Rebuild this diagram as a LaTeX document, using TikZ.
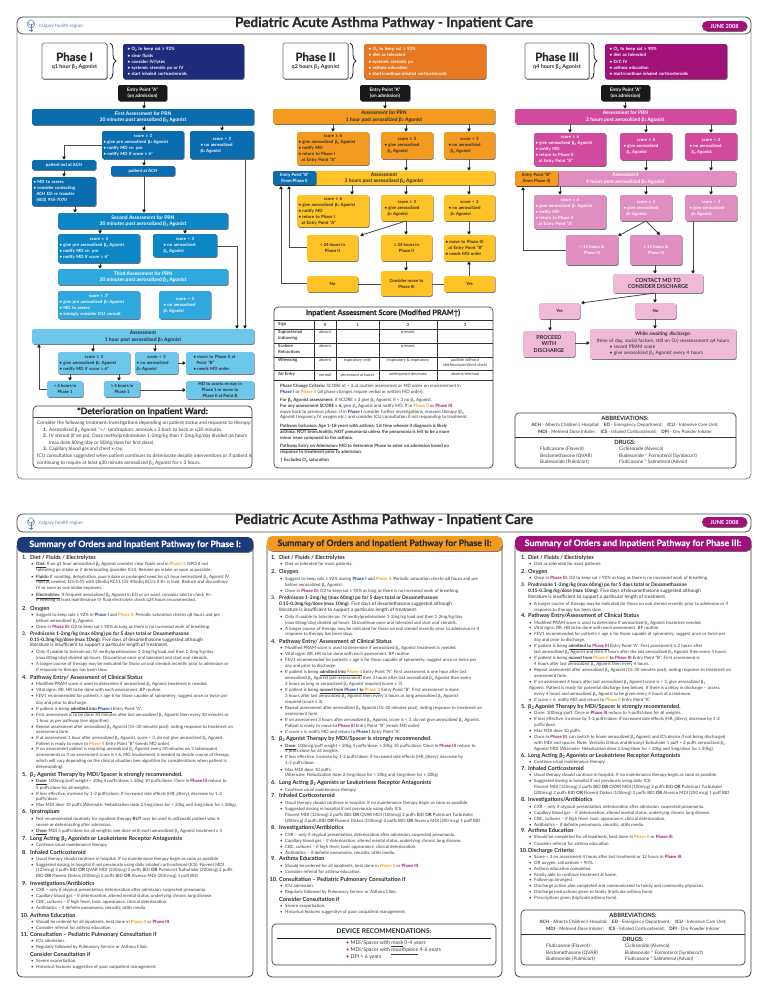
\documentclass[tikz,border=0pt]{standalone}
\usepackage{fontspec}
\setmainfont{Lato}
\newfontfamily\titlef{Lato}[BoldFeatures={FakeBold=0.6}]
\usetikzlibrary{arrows.meta,shadows,decorations.pathreplacing,calc}
\definecolor{navy}{HTML}{1F2C7C}
\definecolor{bannerblue}{HTML}{1B3A7A}
\definecolor{fa}{HTML}{0A6DB0}
\definecolor{fb}{HTML}{0D86C6}
\definecolor{fc}{HTML}{2FA8DD}
\definecolor{fd}{HTML}{6CC7EA}
\definecolor{oa}{HTML}{E87722}
\definecolor{ob}{HTML}{F39A1F}
\definecolor{oc}{HTML}{FFC325}
\definecolor{ma}{HTML}{A0127A}
\definecolor{mb}{HTML}{D24A9F}
\definecolor{mc}{HTML}{DF8EBF}
\definecolor{md}{HTML}{F0B9D6}
\definecolor{ink}{HTML}{2B2B2B}
\definecolor{bodytext}{HTML}{3A3A3A}
\definecolor{logoblue}{HTML}{5A7FA8}
\definecolor{phA}{HTML}{1F3F9A}
\definecolor{phB}{HTML}{F39A1F}
\definecolor{phC}{HTML}{A0127A}
\newcommand\Bt{β\kern.03em\raisebox{-.25ex}{\scalebox{.68}{2}}}
\newcommand\Ot{O\raisebox{-.25ex}{\scalebox{.68}{2}}}
\newcommand\PhA{\textbf{\textcolor{phA}{Phase I}}}
\newcommand\PhB{\textbf{\textcolor{phB}{Phase II}}}
\newcommand\PhC{\textbf{\textcolor{phC}{Phase III}}}
\newcommand\Ul[1]{\underline{\textbf{#1}}}
\newcommand\Cl[1]{\hspace*{\fill}#1\hspace*{\fill}\null}
\newcounter{tn}
\newcommand\Tx[4][]{\stepcounter{tn}\node[txt,#1] (t\arabic{tn}) at (#2,#3) {#4};}
\newcommand\Hd[3]{\Tx[hdtxt]{\xn}{#1}{#2}\Tx[hdtxt]{\xh}{#1}{#3}}
\newcommand\Hl[2]{\Tx[hdtxt]{\xh}{#1}{#2}}
\newcommand\Hb[2]{\Tx[bigtxt]{\xh}{#1}{#2}}
\newcommand\Bu[2]{\Tx{\xb}{#1}{\makebox[\xg pt][l]{•}#2}}
\newcommand\Co[2]{\Tx{\xt}{#1}{#2}}
\newcommand\Bx[9][]{\pgfmathsetmacro\bw{#5-#3}\pgfmathsetmacro\bh{#6-#4}\pgfmathsetmacro\bcx{(#3+#5)/2}\pgfmathsetmacro\bcy{(#4+#6)/2}%
  \node[flowbox,fill=#7,text=#8,minimum width=\bw pt,minimum height=\bh pt,#1] (#2) at (\bcx,\bcy) {#9};}
\newcommand\BxL[9][]{\pgfmathsetmacro\bw{#5-#3}\pgfmathsetmacro\bh{#6-#4}\pgfmathsetmacro\bcx{(#3+#5)/2}\pgfmathsetmacro\bcy{(#4+#6)/2}\pgfmathsetmacro\btw{#5-#3-3}%
  \node[flowbox,fill=#7,text=#8,minimum width=\bw pt,minimum height=\bh pt,text width=\btw pt,align=left,#1] (#2) at (\bcx,\bcy) {#9};}
\newcommand\Dn[3]{\coordinate (tmpc) at (#3,0);\draw[conn] (#1.south -| tmpc) -- (#2.north -| tmpc);}
\newcommand\Rt[3]{\coordinate (tmpc) at (0,#3);\draw[conn] (#1.east |- tmpc) -- (#2.west |- tmpc);}
\newcommand\Up[3]{\coordinate (tmpc) at (#3,0);\draw[conn] (#1.north -| tmpc) -- (#2.south -| tmpc);}
\newcommand\Logo[2]{\begin{scope}[shift={(#1,#2)},logoblue,line width=.5pt]
  \draw (0,-2.5) circle (2.6);\draw (-4,-3) .. controls (-4,2) and (-1,2) .. (0,3);\draw (4,-3) .. controls (4,2) and (1,2) .. (0,3);\draw (0,-1) -- (0,7);\draw (-2,5) -- (2,5);
  \end{scope}}
\newcommand\Phbox[6]{\Bx[phasebox]{#1}{#2}{43}{#3}{79}{white}{ink}{{\titlef\fontsize{11.5}{13}\selectfont\bfseries #4}\\[1.5pt]{\fontsize{5.4}{6}\selectfont\bfseries #5}}
  \draw[bracestyle] (#6,43) -- (#6,79);}
\tikzset{
 txt/.style={anchor=mid west,inner sep=0pt,text=bodytext,font=\fontsize{4.4}{5}\selectfont},
 hdtxt/.style={font=\fontsize{5.6}{6}\selectfont\bfseries,text=ink},
 bigtxt/.style={font=\fontsize{4.95}{6}\selectfont\bfseries,text=ink},
 bigplain/.style={font=\fontsize{4.75}{6}\selectfont,text=ink},
 flowbox/.style={rounded corners=1.6pt,inner sep=0pt,align=center,font=\fontsize{4.3}{6.1}\selectfont\bfseries,
   drop shadow={shadow xshift=.7pt,shadow yshift=-.8pt,opacity=.55,fill=black}},
 asmt/.style={font=\fontsize{5}{6.4}\selectfont\bfseries},
 entryfont/.style={font=\fontsize{4.7}{6.2}\selectfont\bfseries},
 listfont/.style={font=\fontsize{4.4}{6.1}\selectfont\bfseries},
 pillfont/.style={rounded corners=5pt,font=\fontsize{5.6}{6}\selectfont\bfseries},
 banfont/.style={rounded corners=5pt,font=\titlef\fontsize{8.75}{10}\selectfont\bfseries},
 phasebox/.style={draw=black!55,line width=.8pt},
 bracestyle/.style={draw=ink,line width=.9pt,decorate,decoration={brace,amplitude=6pt}},
 conn/.style={draw=black!70,line width=.8pt,-{Latex[length=3.2pt,width=4.2pt,color=black!90]}},
 plainconn/.style={draw=black!70,line width=.8pt},
 framebox/.style={draw=black!75,line width=.7pt,rounded corners=4pt,inner sep=0pt},
 tcell/.style={txt,anchor=center,align=center,font=\fontsize{4.1}{5}\selectfont},
 thead/.style={txt,anchor=center,font=\fontsize{4.2}{5}\selectfont\bfseries},
 tlab/.style={txt,anchor=west,font=\fontsize{4.3}{6}\selectfont\bfseries,align=left},
 ftitle/.style={txt,anchor=mid,text=ink,font=\fontsize{5.8}{7}\selectfont\bfseries},
 pramtxt/.style={font=\fontsize{4.45}{5}\selectfont},
 prambold/.style={font=\fontsize{4.45}{5}\selectfont\bfseries},
 dettxt/.style={font=\fontsize{4.8}{5}\selectfont},
 abbr/.style={anchor=mid,font=\fontsize{4.55}{5}\selectfont},
 drug/.style={font=\fontsize{4.8}{5}\selectfont},
 devt/.style={font=\fontsize{5.2}{6}\selectfont},
}
\begin{document}
\begin{tikzpicture}[x=1pt,y=-1pt]
\useasboundingbox (0,0) rectangle (768,994);
\fill[white] (0,0) rectangle (768,994);
% ---------- page 1 frame
\draw[black!45,line width=.9pt,rounded corners=5pt] (17,30) -- (17,479) -- (751,479) -- (751,30);
\draw[black!70,line width=.8pt,fill=white,rounded corners=6pt] (17,17) rectangle (751,34);
\Logo{31}{25}
\Tx[text=logoblue,font=\fontsize{4.8}{5}\selectfont]{39}{25}{calgary health region}
\Tx[anchor=mid,text=ink,font=\titlef\fontsize{13.7}{16}\selectfont\bfseries]{384}{24.5}{Pediatric Acute Asthma Pathway - Inpatient Care}
\Bx[pillfont]{junea}{702}{21}{747}{31}{ma}{white}{JUNE 2008}
% ---------- Phase I
\Phbox{phi}{42}{107}{Phase I}{q1 hour \Bt{} Agonist}{110}
\BxL[listfont]{phil}{123}{44}{244}{79}{navy}{white}{\hspace*{3pt}• \Ot{} to keep sat ≥ 92\%\\\hspace*{3pt}• clear fluids\\\hspace*{3pt}• consider IV/lytes\\\hspace*{3pt}• systemic steroids po or IV\\\hspace*{3pt}• start inhaled corticosteroids}
\Bx[entryfont]{ea}{118}{85}{167}{101}{black!90}{white}{Entry Point "A"\\(on admission)}
\Bx[asmt]{fa1}{32}{109}{254}{125}{fa}{white}{First Assessment for PRN\\30 minutes post aerosolized \Bt{} Agonist}
\BxL{fa2}{102}{131}{184}{159}{fa}{white}{\Cl{score ≥ 3}\\• give prn aerosolized \Bt{} Agonist\\• notify MD re: prn\\• notify MD if score ≥ 6*}
\BxL{fa3}{190}{131}{254}{159}{fa}{white}{\Cl{score < 3}\\\hspace*{9pt}• no aerosolized\\\hspace*{9pt}\Bt{} Agonist}
\Bx{fa4}{32}{160}{96}{170}{fa}{white}{patient not at ACH}
\Bx{fa5}{111}{166}{175}{176}{fa}{white}{patient at ACH}
\BxL{fa6}{32}{177}{96}{206}{fa}{white}{• MD to assess\\• consider contacting\\\hspace*{3pt}ACH ED re transfer\\\hspace*{3pt}(403) 955-7070}
\Bx[asmt]{fb1}{58}{213}{228}{229}{fb}{white}{Second Assessment for PRN\\30 minutes post aerosolized \Bt{} Agonist}
\BxL{fb2}{58}{234}{140}{263}{fb}{white}{\Cl{score ≥ 3}\\• give prn aerosolized \Bt{} Agonist\\• notify MD re: prn\\• notify MD if score ≥ 6*}
\BxL{fb3}{153}{234}{217}{257}{fb}{white}{\Cl{score < 3}\\\hspace*{9pt}• no aerosolized\\\hspace*{9pt}\Bt{} Agonist}
\Bx[asmt]{fc1}{58}{269}{228}{285}{fc}{white}{Third Assessment for PRN\\30 minutes post aerosolized \Bt{} Agonist}
\BxL{fc2}{58}{291}{140}{319}{fc}{white}{\Cl{score ≥ 3*}\\• give prn aerosolized \Bt{} Agonist\\• MD to assess\\• strongly consider ICU consult}
\BxL{fc3}{159}{291}{211}{319}{fc}{white}{\Cl{score < 3}\\\hspace*{3pt}• no aerosolized\\\hspace*{3pt}\Bt{} Agonist}
\Bx[asmt]{fd1}{32}{329}{254}{344}{fd}{ink}{Assessment\\1 hour post aerosolized \Bt{} Agonist}
\BxL{fd2}{58}{352}{130}{374}{fd}{ink}{\Cl{score ≥ 3}\\• give aerosolized \Bt{} Agonist\\• notify MD if score ≥ 6*}
\BxL{fd3}{135}{352}{178}{374}{fd}{ink}{\Cl{score < 3}\\• no aerosolized\\\Bt{} Agonist}
\BxL{fd4}{186}{352}{254}{374}{fd}{ink}{\hspace*{6pt}• move to Phase II at\\\hspace*{9pt}Point "B"\\\hspace*{6pt}• needs MD order}
\Bx{fd5}{47}{381}{83}{397}{fd}{ink}{< 4 hours in\\Phase 1}
\Bx{fd6}{104}{381}{140}{397}{fd}{ink}{≥ 4 hours in\\Phase 1}
\Bx{fd7}{186}{381}{254}{399}{fd}{ink}{MD to assess re:stay in\\Phase 1 or move to\\Phase II at Point B}
\Dn{ea}{fa1}{144}
\Dn{fa1}{fa2}{144}\Dn{fa1}{fa3}{222}
\coordinate (e1) at (64,145);\draw[conn] (fa2.west |- e1) -- (e1) -- (fa4.north -| e1);
\Dn{fa2}{fa5}{144}\Dn{fa5}{fb1}{144}\Dn{fa4}{fa6}{64}\Dn{fa6}{fb1}{75}
\Dn{fb1}{fb2}{100}\Dn{fb1}{fb3}{185}\Dn{fb2}{fc1}{100}
\coordinate (e2) at (237,246);\draw[conn] (fb3.east |- e2) -- (e2) -- (fd1.north -| e2);
\Dn{fa3}{fd1}{245}
\Dn{fd1}{fd2}{93}\Dn{fd1}{fd3}{155}\Rt{fd3}{fd4}{363}\Dn{fd2}{fd5}{70}\Dn{fd2}{fd6}{119}\Rt{fd6}{fd7}{390}
\coordinate (e3) at (39,389);\draw[conn] (fd5.west |- e3) -- (e3) -- (fd1.south -| e3);
% Deterioration
\node[framebox,fill=white,minimum width=219pt,minimum height=62pt] (det) at (142.5,437) {};
\Tx[anchor=mid,text=ink,font=\titlef\fontsize{8.7}{12}\selectfont\bfseries]{142.5}{411.5}{*Deterioration on Inpatient Ward:}
\draw[black!75,line width=.7pt] (det.west |- 0,417) -- (det.east |- 0,417);
\Tx[dettxt]{37}{422}{Consider the following treatment/investigations depending on patient status and response to therapy:}
\Tx[dettxt]{43}{429}{\makebox[6pt][l]{\textbf{1.}}Aerosolized \Bt{} Agonist *+/- Ipratropium: aerosols x 3 back to back or q30 minutes.}
\Tx[dettxt]{43}{435}{\makebox[6pt][l]{\textbf{2.}}IV steroid (if on po): Dose methylprednisolone 1-2mg/kg then 1-2mg/kg/day divided q6 hours}
\Tx[dettxt]{49}{442}{(max dose 80mg/day or 80mg/dose for first dose).}
\Tx[dettxt]{43}{448}{\makebox[6pt][l]{\textbf{3.}}Capillary blood gas and chest x-ray.}
\Tx[dettxt]{37}{455}{ICU consultation suggested when patient continues to deteriorate despite interventions or if patient is}
\Tx[dettxt]{37}{462}{continuing to require at least q30 minute aerosolized \Bt{} Agonist for ≥ 3 hours.}
% ---------- Phase II
\Phbox{phii}{283}{348}{Phase II}{q2 hours \Bt{} Agonist}{350}
\BxL[listfont]{phiil}{364}{44}{486}{79}{oa}{white}{\hspace*{3pt}• \Ot{} to keep sat ≥ 92\%\\\hspace*{3pt}• diet as tolerated\\\hspace*{3pt}• systemic steroids po\\\hspace*{3pt}• asthma education\\\hspace*{3pt}• start/continue inhaled corticosteroids}
\Bx[entryfont]{eb}{360}{85}{410}{101}{black!90}{white}{Entry Point "A"\\(on admission)}
\Bx[asmt]{ob1}{273}{109}{495}{124}{ob}{ink}{Assessment for PRN\\1 hour post aerosolized \Bt{} Agonist}
\BxL{ob2}{297}{132}{369}{165}{ob}{ink}{\Cl{score ≥ 6}\\• give aerosolized \Bt{} Agonist\\• notify MD\\• return to Phase I\\\hspace*{3pt}at Entry Point "A"}
\BxL{ob3}{381}{132}{433}{159}{ob}{ink}{\Cl{score ≥ 3}\\\hspace*{2pt}• give aerosolized\\\hspace*{5pt}\Bt{} Agonist}
\BxL{ob4}{444}{132}{495}{159}{ob}{ink}{\Cl{score < 3}\\\hspace*{3pt}• no aerosolized\\\hspace*{5pt}\Bt{} Agonist}
\Bx[asmt]{oc1}{273}{171}{495}{185}{oc}{ink}{Assessment\\3 hours post aerosolized \Bt{} Agonist}
\Bx{ebb}{273}{171}{316}{185}{fa}{white}{Entry Point "B"\\(from Phase I)}
\BxL{oc2}{297}{195}{369}{227}{oc}{ink}{\Cl{score ≥ 6}\\• give aerosolized \Bt{} Agonist\\• notify MD\\• return to Phase I\\\hspace*{3pt}at Entry Point "A"}
\BxL{oc3}{381}{195}{433}{221}{oc}{ink}{\Cl{score ≥ 3}\\\hspace*{2pt}• give aerosolized\\\hspace*{5pt}\Bt{} Agonist}
\BxL{oc4}{444}{195}{495}{221}{oc}{ink}{\Cl{score < 3}\\\hspace*{3pt}• no aerosolized\\\hspace*{5pt}\Bt{} Agonist}
\Bx{oc5}{307}{235}{358}{261}{oc}{ink}{< 24 hours in\\Phase II}
\Bx{oc6}{381}{235}{432}{261}{oc}{ink}{≥ 24 hours in\\Phase II}
\BxL{oc7}{444}{235}{495}{261}{oc}{ink}{• move to Phase III\\\hspace*{3pt}at Entry Point "B"\\• needs MD order}
\Bx{oc8}{307}{276}{358}{292}{oc}{ink}{No}
\Bx{oc9}{381}{271}{432}{296}{oc}{ink}{Consider move to\\Phase III}
\Bx{oc10}{444}{276}{495}{292}{oc}{ink}{Yes}
\Dn{eb}{ob1}{385}
\Dn{ob1}{ob2}{333}\Dn{ob1}{ob3}{406}\Dn{ob1}{ob4}{469}
\Dn{ob3}{oc1}{406}\Dn{ob4}{oc1}{469}
\Dn{oc1}{oc2}{352}\Dn{oc1}{oc3}{406}\Dn{oc1}{oc4}{469}
\Dn{oc3}{oc6}{406}\Dn{oc4}{oc7}{469}\Dn{oc6}{oc9}{406}
\coordinate (e4) at (406,221);\draw[conn] (e4) -- (360,235.5);
\coordinate (e5) at (289,247.5);\coordinate (e5t) at (289,186);\draw[conn] (oc5.west |- e5) -- (e5) -- (e5t);
\coordinate (e6) at (281,283);\coordinate (e6t) at (281,186);\draw[conn] (oc8.west |- e6) -- (e6) -- (e6t);
\draw[plainconn] (oc8.east) -- (oc9.west |- oc8.east);
\draw[plainconn] (oc9.east |- oc10.west) -- (oc10.west);
\Up{oc10}{oc7}{469}
% PRAM
\node[framebox,fill=white,minimum width=219pt,minimum height=161pt] (pram) at (383.5,387.5) {};
\Tx[anchor=mid,text=ink,font=\titlef\fontsize{7.4}{10}\selectfont\bfseries]{383}{312.5}{Inpatient Assessment Score (Modified PRAM†)}
\foreach \yy in {320,329,343,357,370,380}{\draw[black!80,line width=.75pt] (274,\yy) -- (493,\yy);}
\foreach \xx in {314,336,379,437}{\draw[black!80,line width=.75pt] (\xx,320) -- (\xx,380);}
\Tx[tlab]{278}{324.5}{Sign}\Tx[thead]{325}{324.5}{0}\Tx[thead]{357.5}{324.5}{1}\Tx[thead]{408}{324.5}{2}\Tx[thead]{465}{324.5}{3}
\Tx[tlab]{278}{335}{Suprasternal\\Indrawing}\Tx[tcell]{325}{332}{absent}\Tx[tcell]{408}{332}{present}
\Tx[tlab]{278}{349}{Scalene\\Retractions}\Tx[tcell]{325}{346}{absent}\Tx[tcell]{408}{346}{present}
\Tx[tlab]{278}{360}{Wheezing}\Tx[tcell]{325}{360}{absent}\Tx[tcell]{357.5}{360}{expiratory only}\Tx[tcell]{408}{360}{inspiratory \& expiratory}\Tx[tcell]{465}{362.5}{audible without\\stethoscope/silent chest}
\Tx[tlab]{278}{374.5}{Air Entry}\Tx[tcell]{325}{374.5}{normal}\Tx[tcell]{357.5}{374.5}{decreased at bases}\Tx[tcell]{408}{374.5}{widespread decrease}\Tx[tcell]{465}{374.5}{absent/minimal}
\Tx[pramtxt]{280}{385}{\textbf{Phase Change Criteria:} SCORE of < 3 at routine assessment or MD order on reassessment in}
\Tx[pramtxt]{280}{391}{\PhA{} or \PhB{} (all phase changes require verbal or written MD order).}
\Tx[pramtxt]{280}{399}{\textbf{For \Bt{} Agonist assessment:} if SCORE ≥ 3 give \Bt{} Agonist, if < 3 no \Bt{} Agonist.}
\Tx[pramtxt]{280}{405}{\textbf{For any assessment SCORE ≥ 6,} give \Bt{} Agonist and notify MD. If in \PhB{} or \PhC}
\Tx[pramtxt]{280}{411}{move back to previous phase. If in \PhA{} consider further investigations, reassess therapy (\Bt}
\Tx[pramtxt]{280}{416}{Agonist frequency IV, oxygen etc.) and consider ICU consultation if not responding to treatment.}
\Tx[prambold]{280}{425}{\underline{Pathway Inclusion:} Age 1-18 years with asthma; 1st time wheeze if diagnosis is likely}
\Tx[prambold]{280}{431}{asthma; NOT bronchiolitis; NOT pneumonia unless the pneumonia is felt to be a more}
\Tx[prambold]{280}{437}{minor issue compared to the asthma.}
\Tx[prambold]{280}{445}{\underline{Pathway Entry on Admission:} MD to determine Phase to enter on admission based on}
\Tx[prambold]{280}{451}{response to treatment prior to admission.}
\Tx[prambold]{280}{459}{† Excludes \Ot{} saturation}
% ---------- Phase III
\Phbox{phiii}{525}{589}{Phase III}{q4 hours \Bt{} Agonist}{591}
\BxL[listfont]{phiiil}{605}{44}{727}{79}{ma}{white}{\hspace*{3pt}• \Ot{} to keep sat ≥ 90\%\\\hspace*{3pt}• diet as tolerated\\\hspace*{3pt}• D/C IV\\\hspace*{3pt}• asthma education\\\hspace*{3pt}• start/continue inhaled corticosteroids}
\Bx[entryfont]{ec}{601}{85}{650}{101}{black!90}{white}{Entry Point "A"\\(on admission)}
\Bx[asmt]{mb1}{515}{109}{736}{124}{mb}{white}{Assessment for PRN\\2 hours post aerosolized \Bt{} Agonist}
\BxL{mb2}{534}{133}{606}{166}{mb}{white}{\Cl{score ≥ 6}\\• give aerosolized \Bt{} Agonist\\• notify MD\\• return to Phase II\\\hspace*{3pt}at Entry Point "A"}
\BxL{mb3}{620}{133}{672}{160}{mb}{white}{\Cl{score ≥ 3}\\\hspace*{2pt}• give aerosolized\\\hspace*{5pt}\Bt{} Agonist}
\BxL{mb4}{685}{133}{737}{160}{mb}{white}{\Cl{score < 3}\\\hspace*{3pt}• no aerosolized\\\hspace*{5pt}\Bt{} Agonist}
\Bx[asmt]{mc1}{515}{171}{736}{186}{mc}{white}{Assessment\\4 hours post aerosolized \Bt{} Agonist}
\Bx{ebc}{515}{171}{558}{186}{ob}{ink}{Entry Point "B"\\(from Phase II)}
\BxL{mc2}{534}{195}{606}{229}{mc}{white}{\Cl{score ≥ 6}\\• give aerosolized \Bt{} Agonist\\• notify MD\\• return to Phase II\\\hspace*{3pt}at Entry Point "A"}
\BxL{mc3}{620}{195}{672}{221}{mc}{white}{\Cl{score ≥ 3}\\\hspace*{2pt}• give aerosolized\\\hspace*{5pt}\Bt{} Agonist}
\BxL{mc4}{685}{195}{737}{221}{mc}{white}{\Cl{score < 3}\\\hspace*{3pt}• give aerosolized\\\hspace*{5pt}\Bt{} Agonist}
\Bx{mc5}{566}{235}{618}{265}{mc}{white}{< 12 hours in\\Phase III}
\Bx{mc6}{630}{235}{682}{265}{mc}{white}{≥ 12 hours in\\Phase III}
\Bx[font=\fontsize{5.5}{6.6}\selectfont\bfseries]{md1}{613}{274}{703}{293}{md}{ink}{CONTACT MD TO\\CONSIDER DISCHARGE}
\Bx{md2}{539}{303}{580}{319}{md}{ink}{Yes}
\Bx{md3}{635}{303}{676}{319}{md}{ink}{No}
\Bx[font=\fontsize{5.4}{6.4}\selectfont\bfseries]{md4}{523}{331}{575}{357}{md}{ink}{PROCEED\\WITH\\DISCHARGE}
\BxL[font=\fontsize{4.8}{6.3}\selectfont\bfseries]{md5}{590}{329}{736}{359}{md}{ink}{\Cl{While awaiting discharge:}\\\Cl{\mdseries(time of day, social factors, still on \Ot{}) reassessment q4 hours}\\\hspace*{18pt}• record PRAM score\\\hspace*{18pt}• give aerosolized \Bt{} Agonist every 4 hours}
\Dn{ec}{mb1}{625}
\Dn{mb1}{mb2}{570}\Dn{mb1}{mb3}{646}\Dn{mb1}{mb4}{711}
\Dn{mb3}{mc1}{646}\Dn{mb4}{mc1}{711}
\Dn{mc1}{mc2}{560}\Dn{mc1}{mc3}{646}\Dn{mc1}{mc4}{711}
\coordinate (e7) at (646,221);\draw[conn] (e7) -- (618,236);\draw[conn] (e7) -- (660,235);
\Dn{mc6}{md1}{655}
\Dn{mc4}{md1}{693}
\coordinate (e8) at (523,250);\coordinate (e8t) at (523,187);\draw[conn] (mc5.west |- e8) -- (e8) -- (e8t);
\Dn{md1}{md3}{655}
\coordinate (e9) at (655,293);\draw[conn] (e9) -- (581,303);
\Dn{md2}{md4}{550}\Dn{md3}{md5}{655}\Rt{md4}{md5}{343}
% Abbreviations top
\node[framebox,fill=white,minimum width=221pt,minimum height=55pt] (aba) at (625.5,440.5) {};
\draw[black!80,line width=.75pt] (aba.west |- 0,437) -- (aba.east |- 0,437);
\Tx[ftitle]{625}{418}{ABBREVIATIONS:}
\Tx[abbr]{625}{424}{\textbf{ACH} - Alberta Children's Hospital;\quad \textbf{ED} - Emergency Department;\quad \textbf{ICU} - Intensive Care Unit;}
\Tx[abbr]{625}{431}{\textbf{MDI} - Metered Dose Inhaler;\quad \textbf{ICS} - Inhaled Corticosteroid;\quad \textbf{DPI} - Dry Powder Inhaler}
\Tx[ftitle]{625}{442}{DRUGS:}
\Tx[drug]{540}{448}{Fluticasone (Flovent)}\Tx[drug]{619}{448}{Ciclesonide (Alvesco)}
\Tx[drug]{540}{455}{Beclomethasone (QVAR)}\Tx[drug]{619}{455}{Budesonide * Formoterol (Symbicort)}
\Tx[drug]{540}{461}{Budesonide (Pulmicort)}\Tx[drug]{619}{461}{Fluticasone * Salmeterol (Advair)}
% ---------- page 2 frame
\draw[black!70,line width=.8pt,fill=white,rounded corners=6pt] (17,514) rectangle (751,532);
\Logo{31}{523}
\Tx[text=logoblue,font=\fontsize{4.8}{5}\selectfont]{39}{522}{calgary health region}
\Tx[anchor=mid,text=ink,font=\titlef\fontsize{13.7}{16}\selectfont\bfseries]{384}{521.5}{Pediatric Acute Asthma Pathway - Inpatient Care}
\Bx[pillfont]{juneb}{702}{517}{747}{527}{ma}{white}{JUNE 2008}
\draw[black!75,line width=.8pt,rounded corners=5pt] (17,545) -- (17,977) -- (253,977) -- (253,545);
\draw[black!75,line width=.8pt,rounded corners=5pt] (267,545) -- (267,977) -- (502,977) -- (502,545);
\draw[black!75,line width=.8pt,rounded corners=5pt] (515,545) -- (515,977) -- (751,977) -- (751,545);
\Bx[banfont]{ban}{17}{537}{253}{552}{bannerblue}{white}{Summary of Orders and Inpatient Pathway for Phase I:}
\Bx[banfont]{bbn}{267}{536}{502}{551}{ob}{ink}{Summary of Orders and Inpatient Pathway for Phase II:}
\Bx[banfont]{bcn}{515}{536}{751}{551}{ma}{white}{Summary of Orders and Inpatient Pathway for Phase III:}
% ---------- Column I
\def\xn{22}\def\xh{30}\def\xb{31}\def\xt{36}\def\xg{5}
\Hd{557}{1.}{Diet / Fluids / Electrolytes}
\Bu{563}{\Ul{Diet:} If on q1 hour aerosolized \Bt{} Agonist consider clear fluids oral in \PhB. NPO if not}
\Co{569}{tolerating po intake or if deteriorating (possible ICU). Resume po intake as soon as possible.}
\Bu{576}{\Ul{Fluids:} If vomiting, dehydration, poor intake or prolonged need for q1 hour aerosolized \Bt{} Agonist IV}
\Co{581}{fluid as needed. D5/0.45 with 20mEq KCl/L (35-40mEq KCl/L if K+ is low). Reduce and discontinue}
\Co{587}{IV as soon as oral intake improves.}
\Bu{594}{\Ul{Electrolytes:} If frequent aerosolized \Bt{} Agonist in ED or on ward, consider labs to check K+.}
\Co{599}{If needing at least maintenance IV fluid electrolyte check q24 hours recommended.}
\Hd{608}{2.}{Oxygen}
\Bu{614}{Suggest to keep sats ≥ 92\% in \PhA{} and \PhB. Periodic saturation checks q8 hours and pre}
\Co{620}{before aerosolized \Bt{} Agonist.}
\Bu{626}{Once in \PhC: O2 to keep sat ≥ 90\% as long as there is no increased work of breathing.}
\Tx[bigtxt]{\xn}{633}{3.}\Hb{633}{Prednisone 1-2mg/kg (max 60mg) po for 5 days total or Dexamethasone}
\Tx[bigplain]{\xh}{638.5}{\textbf{0.15-0.3mg/kg/dose (max 10mg).} Five days of dexamethasone suggested although}
\Tx[bigplain]{\xh}{644}{literature is insufficient to support a particular length of treatment.}
\Bu{651}{Only if unable to tolerate po: IV methylprednisolone 1-2mg/kg load and then 1-2mg/kg/day}
\Co{657}{(max 80mg/day) divided q6 hours. Discontinue once oral tolerated and start oral steroids.}
\Bu{663}{A longer course of therapy may be indicated for those on oral steroids recently prior to admission or}
\Co{669}{if response to therapy has been slow.}
\Hd{677}{4.}{Pathway Entry/ Assessment of Clinical Status}
\Bu{683}{Modified PRAM score is used to determine if aerosolized \Bt{} Agonist treatment is needed.}
\Bu{689}{Vital signs: RR, HR to be done with each assessment. BP routine.}
\Bu{695}{FEV1 recommended for patients ≥ age 6 for those capable of spirometry; suggest once or twice per}
\Co{702}{day and prior to discharge.}
\Bu{708}{If patient is being \Ul{admitted into \textcolor{phA}{Phase I}} Entry Point "A".}
\Bu{714}{First assessment is to be done 30 minutes after last aerosolized \Bt{} Agonist then every 30 minutes or}
\Co{720}{1 hour as per pathway (see algorithm).}
\Bu{726}{Repeat assessment after aerosolized \Bt{} Agonist (15-30 minutes post), noting response to treatment on}
\Co{731}{assessment form.}
\Bu{737}{If at assessment 1 hour after aerosolized \Bt{} Agonist, score < 3, do not give aerosolized \Bt{} Agonist.}
\Co{743}{Patient is ready to move to \PhB{} Entry Point "B" (needs MD order).}
\Bu{748}{If on assessment patient is requiring aerosolized \Bt{} Agonist every 30 minutes on 3 subsequent}
\Co{754}{assessments or if on assessment score is ≥ 6, MD involvement is needed to decide course of therapy}
\Co{760}{which will vary depending on the clinical situation (see algorithm for considerations when patient is}
\Co{766}{deteriorating).}
\Hd{774}{5.}{\Bt{} Agonist Therapy by MDI/Spacer is strongly recommended.}
\Bu{780}{\Ul{Dose:} 100mcg/puff weight < 20kg 5 puffs/dose; ≥ 20kg 10 puffs/dose. Once in \PhC{} reduce to}
\Co{787}{5 puffs/dose for all weights.}
\Bu{793}{If less effective, increase by 1-2 puffs/dose; if increased side effects (HR, jittery), decrease by 1-2}
\Co{798}{puffs/dose.}
\Bu{804}{Max MDI dose 10 puffs (Alternate: Nebulization dose 2.5mg/dose for < 20kg and 5mg/dose for ≥ 20kg).}
\Hd{811}{6.}{Ipratropium}
\Bu{818}{Not recommended routinely for inpatient therapy \textbf{BUT} may be used in asthmatic patient who is}
\Co{824}{severe or deteriorating after admission.}
\Bu{830}{\Ul{Dose:} MDI 5 puffs/dose for all weights; one dose with each aerosolized \Bt{} Agonist treatment x 3}
\Hd{838}{7.}{Long Acting \Bt{} Agonists or Leukotriene Receptor Antagonists}
\Bu{844}{Continue usual maintenance therapy.}
\Hd{852}{8.}{Inhaled Corticosteroid}
\Bu{858}{Usual therapy should continue in hospital. If no maintenance therapy begin as soon as possible.}
\Bu{864}{Suggested dosing in hospital if not previously using daily inhaled corticosteroid (ICS): Flovent MDI}
\Co{869}{(125mcg) 2 puffs BID \textbf{OR} QVAR MDI (100mcg) 2 puffs BID \textbf{OR} Pulmicort Turbuhaler (200mcg) 2 puffs}
\Co{875}{BID \textbf{OR} Flovent Diskus (100mcg) 2 puffs BID \textbf{OR} Alvesco MDI (200 mcg) 1 puff BID}
\Hd{883}{9.}{Investigations/Antibiotics}
\Bu{889}{CXR – only if atypical presentation, deterioration after admission, suspected pneumonia.}
\Bu{895}{Capillary blood gas – if deterioration, altered mental status, underlying chronic lung disease.}
\Bu{901}{CBC, cultures – if high fever, toxic appearance, clinical deterioration.}
\Bu{907}{Antibiotics – if definite pneumonia, sinusitis, otitis media.}
\def\xn{20.5}\Hd{915}{10.}{Asthma Education}
\Bu{921}{Should be ordered for all inpatients, best done in \PhB{} or \PhC.}
\Bu{927}{Consider referral for asthma education.}
\Hd{934}{11.}{Consultation – Pediatric Pulmonary Consultation if}
\Bu{940}{ICU admission.}
\Bu{946}{Regularly followed by Pulmonary Service or Asthma Clinic.}
\Hl{954}{Consider Consultation if}
\Bu{960}{Severe exacerbation.}
\Bu{966}{Historical features suggestive of poor outpatient management.}
% ---------- Column II
\def\xn{271}\def\xh{279}\def\xb{280}\def\xt{285}
\Hd{557}{1.}{Diet / Fluids / Electrolytes}
\Bu{563}{Diet as tolerated for most patients.}
\Hd{571}{2.}{Oxygen}
\Bu{578}{Suggest to keep sats ≥ 92\% during \PhA{} and \PhB. Periodic saturation checks q8 hours and pre}
\Co{584}{before aerosolized \Bt{} Agonist.}
\Bu{590}{Once in \PhC: O2 to keep sat ≥ 90\% as long as there is no increased work of breathing.}
\Tx[bigtxt]{\xn}{597}{3.}\Hb{597}{Prednisone 1-2mg/kg (max 60mg) po for 5 days total or Dexamethasone}
\Tx[bigplain]{\xh}{603}{\textbf{0.15-0.3mg/kg/dose (max 10mg).} Five days of dexamethasone suggested although}
\Tx[bigplain]{\xh}{609}{literature is insufficient to support a particular length of treatment.}
\Bu{616}{Only if unable to tolerate po: IV methylprednisolone 1-2mg/kg load and then 1-2mg/kg/day}
\Co{622}{(max 80mg/day) divided q6 hours. Discontinue once oral tolerated and start oral steroids.}
\Bu{628}{A longer course of therapy may be indicated for those on oral steroid recently prior to admission or if}
\Co{633}{response to therapy has been slow.}
\Hd{641}{4.}{Pathway Entry/ Assessment of Clinical Status}
\Bu{647}{Modified PRAM score is used to determine if aerosolized \Bt{} Agonist treatment is needed.}
\Bu{653}{Vital signs: RR, HR to be done with each assessment. BP routine.}
\Bu{659}{FEV1 recommended for patients ≥ age 6 for those capable of spirometry; suggest once or twice per}
\Co{665}{day and prior to discharge.}
\Bu{671}{If patient is being \Ul{admitted into \textcolor{phB}{Phase II}} Entry Point "A". First assessment is one hour after last}
\Co{677}{aerosolized \Bt{} Agonist (pre-assessment) then 3 hours after last aerosolized \Bt{} Agonist then every}
\Co{683}{3 hours as long as aerosolized \Bt{} Agonist required (score ≥ 3).}
\Bu{689}{If patient is being \Ul{moved from \textcolor{phA}{Phase I} to \textcolor{phB}{Phase II}} Entry Point "B". First assessment is done}
\Co{695}{3 hours after last aerosolized \Bt{} Agonist then every 3 hours as long aerosolized \Bt{} Agonist}
\Co{701}{required (score ≥ 3).}
\Bu{707}{Repeat assessment after aerosolized \Bt{} Agonist (15-30 minutes post), noting response to treatment on}
\Co{713}{assessment form.}
\Bu{719}{If on assessment 3 hours after aerosolized \Bt{} Agonist, score is < 3, do not give aerosolized \Bt{} Agonist.}
\Co{725}{Patient is ready to move to \PhC{} Entry Point "B" (needs MD order).}
\Bu{731}{If score ≥ 6, notify MD and return to \PhA{} Entry Point "A".}
\Hd{738}{5.}{\Bt{} Agonist Therapy by MDI/Spacer is strongly recommended.}
\Bu{745}{\Ul{Dose:} 100mcg/puff weight < 20kg 5 puffs/dose; ≥ 20kg 10 puffs/dose. Once in \PhC{} reduce to}
\Co{750}{5 puffs/dose for all weights.}
\Bu{756}{If less effective, increase by 1-2 puffs/dose; if increased side effects (HR, jittery), decrease by}
\Co{762}{1-2 puffs/dose.}
\Bu{769}{Max MDI dose 10 puffs}
\Co{774}{(Alternate: Nebulization dose 2.5mg/dose for < 20kg and 5mg/dose for ≥ 20kg)}
\Hd{782}{6.}{Long Acting \Bt{} Agonists or Leukotriene Receptor Antagonists}
\Bu{789}{Continue usual maintenance therapy.}
\Hd{795}{7.}{Inhaled Corticosteroid}
\Bu{802}{Usual therapy should continue in hospital. If no maintenance therapy begin as soon as possible.}
\Bu{808}{Suggested dosing in hospital if not previously using daily ICS:}
\Co{814}{Flovent MDI (125mcg) 2 puffs BID \textbf{OR} QVAR MDI (100mcg) 2 puffs BID \textbf{OR} Pulmicort Turbuhaler}
\Co{820}{(200mcg) 2 puffs BID \textbf{OR} Flovent Diskus (100mcg) 2 puffs BID \textbf{OR} Alvesco MDI (200 mcg) 1 puff BID}
\Hd{827}{8.}{Investigations/Antibiotics}
\Bu{834}{CXR – only if atypical presentation, deterioration after admission, suspected pneumonia.}
\Bu{840}{Capillary blood gas – if deterioration, altered mental status, underlying chronic lung disease.}
\Bu{846}{CBC, cultures – if high fever, toxic appearance, clinical deterioration.}
\Bu{852}{Antibiotics – if definite pneumonia, sinusitis, otitis media.}
\Hd{858}{9.}{Asthma Education}
\Bu{865}{Should be ordered for all inpatients, best done in \PhB{} or \PhC.}
\Bu{871}{Consider referral for asthma education.}
\def\xn{269.5}\Hd{879}{10.}{Consultation – Pediatric Pulmonary Consultation if}
\Bu{885}{ICU admission.}
\Bu{891}{Regularly followed by Pulmonary Service or Asthma Clinic.}
\Hl{899}{Consider Consultation if}
\Bu{905}{Severe exacerbation.}
\Bu{911}{Historical features suggestive of poor outpatient management.}
\node[framebox,fill=white,minimum width=224pt,minimum height=41pt] (dev) at (384,944.5) {};
\Tx[ftitle,font=\fontsize{6.6}{7}\selectfont\bfseries]{384}{931}{DEVICE RECOMMENDATIONS:}
\draw[black!85,line width=.8pt] (277,938) -- (491,938);
\Tx[devt]{346}{942}{\makebox[4.5pt][l]{\textcolor{red!75!black}{•}}MDI/Spacer with \underline{mask} 0-4 years}
\Tx[devt]{346}{949}{\makebox[4.5pt][l]{\textcolor{red!75!black}{•}}MDI/Spacer with \underline{mouthpiece} 4-6 years}
\Tx[devt]{346}{956}{\makebox[4.5pt][l]{\textcolor{red!75!black}{•}}DPI > 6 years}
% ---------- Column III
\def\xn{521}\def\xh{528}\def\xb{529}\def\xt{534}
\Hd{557}{1.}{Diet / Fluids / Electrolytes}
\Bu{563}{Diet as tolerated for most patients.}
\Hd{571}{2.}{Oxygen}
\Bu{577}{Once in \PhC: O2 to keep sat ≥ 90\% as long as there is no increased work of breathing.}
\Tx[bigtxt]{\xn}{584}{3.}\Hb{584}{Prednisone 1-2mg/kg (max 60mg) po for 5 days total or Dexamethasone}
\Tx[bigplain]{\xh}{590}{\textbf{0.15-0.3mg/kg/dose (max 10mg).} Five days of dexamethasone suggested although}
\Tx[bigplain]{\xh}{596}{literature is insufficient to support a particular length of treatment.}
\Bu{603}{A longer course of therapy may be indicated for those on oral steroid recently prior to admission or if}
\Co{609}{response to therapy has been slow.}
\Hd{615}{4.}{Pathway Entry/Assessment of Clinical Status}
\Bu{622}{Modified PRAM score is used to determine if aerosolized \Bt{} Agonist treatment needed.}
\Bu{627}{Vital signs: RR, HR to be done with each assessment. BP routine.}
\Bu{633}{FEV1 recommended for patients ≥ age 6 for those capable of spirometry; suggest once or twice per}
\Co{639}{day and prior to discharge.}
\Bu{645}{If patient is being \Ul{admitted to \textcolor{phC}{Phase III}} Entry Point "A". First assessment is 2 hours after}
\Co{651}{last aerosolized \Bt{} Agonist and then 4 hours after the last aerosolized \Bt{} Agonist then every 4 hours.}
\Bu{657}{If patient is being \Ul{moved from \textcolor{phB}{Phase II} to \textcolor{phC}{Phase III}} Entry Point "B". First assessment is}
\Co{663}{4 hours after last aerosolized \Bt{} Agonist then every 4 hours.}
\Bu{669}{Repeat assessment after aerosolized \Bt{} Agonist (15-30 minutes post), noting response to treatment on}
\Co{675}{assessment form.}
\Bu{681}{If on assessment 4 hours after last aerosolized \Bt{} Agonist score is < 3, give aerosolized \Bt}
\Tx{529}{687}{Agonist. Patient is ready for potential discharge (see below). If there is a delay in discharge – assess}
\Co{693}{every 4 hours and aerosolized \Bt{} Agonist to be given every 4 hours at a minimum.}
\Bu{699}{If score ≥ 6, notify MD and return to \PhB{} Entry Point "A".}
\Hd{706}{5.}{\Bt{} Agonist Therapy by MDI/Spacer is strongly recommended.}
\Bu{712}{Dose: 100mcg/puff. Once in \PhC{} reduce to 5 puffs/dose for all weights.}
\Bu{718}{If less effective, increase by 1-2 puffs/dose; if increased side effects (HR, jittery), decrease by 1-2}
\Co{724}{puffs/dose.}
\Bu{730}{Max MDI dose 10 puffs.}
\Bu{736}{Once in \PhC, can switch to home aerosolized \Bt{} Agonist and ICS device if not being discharged}
\Co{742}{with MDI and spacer. Note: Ventolin Diskus and Bricanyl Turbuhaler 1 puff = 2 puffs aerosolized \Bt}
\Co{748}{Agonist MDI (Alternate: Nebulization dose 2.5mg/dose for < 20kg and 5mg/dose for ≥ 20kg).}
\Hd{755}{6.}{Long Acting \Bt{} Agonists or Leukotriene Receptor Antagonists}
\Bu{761}{Continue usual maintenance therapy.}
\Hd{768}{7.}{Inhaled Corticosteroid}
\Bu{774}{Usual therapy should continue in hospital. If no maintenance therapy begin as soon as possible.}
\Bu{780}{Suggested dosing in hospital if not previously using daily ICS:}
\Co{786}{Flovent MDI (125mcg) 2 puffs BID \textbf{OR} QVAR MDI (100mcg) 2 puffs BID \textbf{OR} Pulmicort Turbuhaler}
\Co{792}{(200mcg) 2 puffs BID \textbf{OR} Flovent Diskus (100mcg) 2 puffs BID \textbf{OR} Alvesco MDI (200 mcg) 1 puff BID}
\Hd{799}{8.}{Investigations/Antibiotics}
\Bu{806}{CXR – only if atypical presentation, deterioration after admission, suspected pneumonia.}
\Bu{812}{Capillary blood gas – if deterioration, altered mental status, underlying chronic lung disease.}
\Bu{818}{CBC, cultures – if high fever, toxic appearance, clinical deterioration.}
\Bu{824}{Antibiotics – if definite pneumonia, sinusitis, otitis media.}
\Hd{830}{9.}{Asthma Education}
\Bu{836}{Should be completed for all inpatients, best done in \PhB{} or \PhC.}
\Bu{843}{Consider referral for asthma education.}
\def\xn{519.5}\Hd{850}{10.}{Discharge Criteria:}
\Bu{856}{Score < 3 on assessment 4 hours after last treatment or 12 hours in \PhC.}
\Bu{862}{Off oxygen, saturations > 90\%.}
\Bu{868}{Asthma education completed.}
\Bu{874}{Family able to continue treatment at home.}
\Bu{879}{Follow-up arranged.}
\Bu{885}{Discharge action plan completed and communicated to family and community physician.}
\Bu{891}{Discharge instructions given to family (triplicate asthma form).}
\Bu{897}{Prescriptions given (triplicate asthma form).}
\node[framebox,fill=white,minimum width=224pt,minimum height=55pt] (abb) at (633,937.5) {};
\draw[black!80,line width=.75pt] (abb.west |- 0,934) -- (abb.east |- 0,934);
\Tx[ftitle]{633}{915}{ABBREVIATIONS:}
\Tx[abbr]{633}{921}{\textbf{ACH} - Alberta Children's Hospital;\quad \textbf{ED} - Emergency Department;\quad \textbf{ICU} - Intensive Care Unit;}
\Tx[abbr]{633}{928}{\textbf{MDI} - Metered Dose Inhaler;\quad \textbf{ICS} - Inhaled Corticosteroid;\quad \textbf{DPI} - Dry Powder Inhaler}
\Tx[ftitle]{633}{939}{DRUGS:}
\Tx[drug]{546}{945}{Fluticasone (Flovent)}\Tx[drug]{625}{945}{Ciclesonide (Alvesco)}
\Tx[drug]{546}{952}{Beclomethasone (QVAR)}\Tx[drug]{625}{952}{Budesonide * Formoterol (Symbicort)}
\Tx[drug]{546}{958}{Budesonide (Pulmicort)}\Tx[drug]{625}{958}{Fluticasone * Salmeterol (Advair)}
\end{tikzpicture}
\end{document}
